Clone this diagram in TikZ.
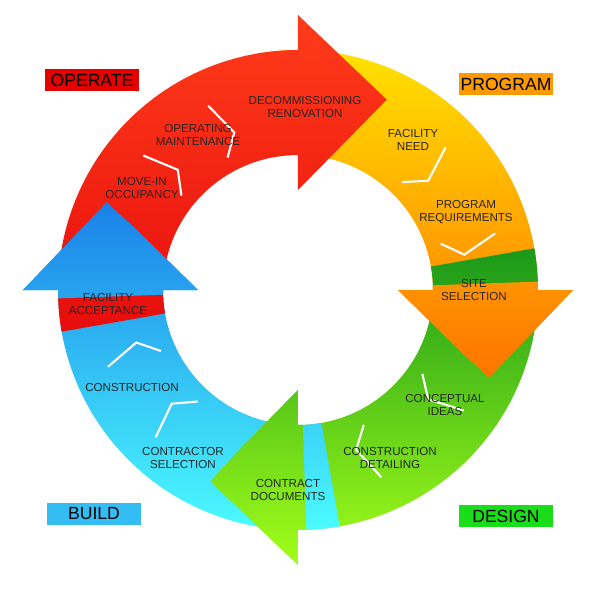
\documentclass[tikz,border=0pt]{standalone}
\usepackage{fontspec}
\setmainfont{Liberation Sans}
\usetikzlibrary{positioning}

\newcommand{\ringarrow}[1]{(#1+100:240) arc (#1+100:#1:240) -- (#1:275) -- (#1-25:210) -- (#1:100) -- (#1:135) arc (#1:#1+100:135) -- cycle}
\newcommand{\ringhead}[1]{(#1:280) -- (#1-25:215) -- (#1:95) -- (#1+2:95) -- (#1+2:280) -- cycle}

\tikzset{
  step label/.style={font=\fontsize{6.6}{7.6}\selectfont, align=center, text=black!85},
  phase box/.style={font=\fontsize{10}{12}\selectfont, minimum width=54pt, minimum height=13pt, inner sep=0pt},
  chevron/.style={draw=white, line width=1.2pt},
  operate/.style={left color=red!70!orange!90!white, right color=red!90!black!95, shading angle=0},
  program/.style={top color=yellow!80!orange, bottom color=orange!90!red, shading angle=0},
  design/.style={left color=green!55!black!90, right color=yellow!60!green!90, shading angle=0},
  build/.style={top color=blue!50!cyan!90!black!90, bottom color=cyan!70!white, shading angle=0}
}

\begin{document}
\begin{tikzpicture}[x=0.02cm, y=0.02cm]
    \useasboundingbox (0,0) rectangle (600,600);
    \begin{scope}[shift={(298,310)}]
    % the four arrows
    \shade[program] \ringarrow{0};
    \shade[design] \ringarrow{-90};
    \shade[build] \ringarrow{180};
    \shade[operate] \ringarrow{90};
    % heads on top of the next tail
    \begin{scope} \clip \ringhead{0}; \shade[program] \ringarrow{0}; \end{scope}
    \begin{scope} \clip \ringhead{-90}; \shade[design] \ringarrow{-90}; \end{scope}
    \begin{scope} \clip \ringhead{180}; \shade[build] \ringarrow{180}; \end{scope}
    % chevrons
    \foreach \a in {135,112,40,12,-40,-70,198,222}
        \draw[chevron] (\a+6:150) -- (\a:170) -- (\a+4:205);
    \end{scope}

    % steps
    \node[step label] (decom) at (305,493) {DECOMMISSIONING\\RENOVATION};
    \node[step label] (oper) at (198,465) {OPERATING\\MAINTENANCE};
    \node[step label] (movein) at (142,412) {MOVE-IN\\OCCUPANCY};
    \node[step label] (need) at (413,460) {FACILITY\\NEED};
    \node[step label] (req) at (466,388) {PROGRAM\\REQUIREMENTS};
    \node[step label] (site) at (474,310) {SITE\\SELECTION};
    \node[step label] (ideas) at (445,195) {CONCEPTUAL\\IDEAS};
    \node[step label] (detail) at (390,142) {CONSTRUCTION\\DETAILING};
    \node[step label] (docs) at (288,110) {CONTRACT\\DOCUMENTS};
    \node[step label] (select) at (183,142) {CONTRACTOR\\SELECTION};
    \node[step label] (constr) at (132,212) {CONSTRUCTION};
    \node[step label] (accept) at (108,296) {FACILITY\\ACCEPTANCE};

    % phases
    \node[phase box, fill=red!90!black] (operate) at (92,520) {OPERATE};
    \node[phase box, fill=orange!80!yellow] (program) at (506,516) {PROGRAM};
    \node[phase box, fill=green!85!black!90] (design) at (506,84) {DESIGN};
    \node[phase box, fill=cyan!80!white] (build) at (94,86) {BUILD};
\end{tikzpicture}
\end{document}
